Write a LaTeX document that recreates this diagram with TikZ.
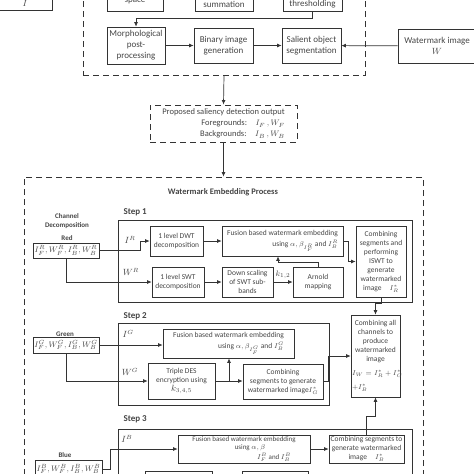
\documentclass[tikz,border=0pt]{standalone}
\usepackage{fontspec}
\setmainfont{Carlito}
\usepackage{amsmath}
\usetikzlibrary{arrows.meta}
\definecolor{linec}{gray}{0.2}
\definecolor{textc}{gray}{0.27}
\tikzset{
  blk/.style={draw=linec, line width=0.7pt, text=textc, align=center, inner sep=0pt, font=\fontsize{7.5}{9}\selectfont},
  bigblk/.style={blk, font=\fontsize{9}{11}\selectfont},
  stepbox/.style={draw=linec, line width=1pt},
  dashbox/.style={draw=linec, line width=0.9pt, dash pattern=on 6pt off 4pt},
  arr/.style={draw=linec, line width=0.7pt, -{Latex[length=4.5pt,width=4pt]}},
  lbl/.style={text=textc, font=\fontsize{9}{11}\selectfont\bfseries},
  chlbl/.style={text=textc, align=center, font=\fontsize{7}{9}\selectfont\bfseries},
  mlbl/.style={text=textc, font=\fontsize{9}{11}\selectfont},
}
\begin{document}
\begin{tikzpicture}[x=1pt,y=-1pt]
	\useasboundingbox (0,0) rectangle (474,474);
	\clip (0,0) rectangle (474,474);
	
	\node[dashbox, minimum width=282pt, minimum height=90pt](sal) at (224,30){};
	\node[bigblk, minimum width=54pt, minimum height=14pt](s_in) at (25,3){$I$};
	\node[bigblk, minimum width=56pt, minimum height=20pt](s_space) at (135,1){space};
	\node[bigblk, minimum width=58pt, minimum height=14pt](s_sum) at (224,4){summation};
	\node[bigblk, minimum width=59pt, minimum height=14pt](s_thr) at (312.5,4){thresholding};
	\node[bigblk, minimum width=58pt, minimum height=37pt](s_morph) at (136,45.5){Morphological\\post-\\processing};
	\node[bigblk, minimum width=59pt, minimum height=35pt](s_bin) at (223.5,45.5){Binary image\\generation};
	\node[bigblk, minimum width=59pt, minimum height=35pt](s_seg) at (311.5,45.5){Salient object\\segmentation};
	\node[bigblk, minimum width=78pt, minimum height=34pt](s_wm) at (437,46){Watermark image\\$W$};
	
	\draw[arr] (s_thr.south) -- ++(0,7) -| (s_morph.north);
	\draw[arr] (s_morph) -- (s_bin);
	\draw[arr] (s_bin) -- (s_seg);
	\draw[arr] (s_wm) -- (s_seg);
	
	\node[dashbox, text=textc, align=right, inner sep=0pt, font=\fontsize{8.5}{11}\selectfont, minimum width=147pt, minimum height=37pt](out) at (223.5,123.5){Proposed saliency detection output\\Foregrounds:\quad $I_F\,,W_F$\\Backgrounds:\quad $I_B\,,W_B$};
	\node[dashbox, minimum width=399pt, minimum height=330pt](emb) at (223.5,342){};
	
	\draw[arr] (sal.south) -- (out.north);
	\draw[arr] (out.south) -- (emb.north);
	
	\node[lbl, font=\fontsize{8.5}{10}\selectfont\bfseries](emb_title) at (223,192){Watermark Embedding Process};
	
	% red channel
	\node[stepbox, minimum width=294pt, minimum height=82pt](step1) at (265,261){};
	\node[lbl, anchor=west](step1_lbl) at (120,212){Step 1};
	\node[chlbl](chan) at (67,221){Channel\\Decomposition};
	\node[chlbl](red_lbl) at (67,238){Red};
	\node[blk, font=\fontsize{8}{10}\selectfont, minimum width=66pt, minimum height=15pt](red) at (66,250.5){$I^R_F,W^R_F,I^R_B,W^R_B$};
	
	\node[blk, minimum width=53pt, minimum height=30pt](r_dwt) at (176.5,241){1 level DWT\\decomposition};
	\node[blk, align=right, minimum width=121pt, minimum height=30pt](r_fus) at (282.5,241){Fusion based watermark embedding\\[2pt]using $\alpha,\beta_{I^R_F}$ and $I^R_B$};
	\node[blk, minimum width=50pt, minimum height=71pt](r_comb) at (381,261.5){Combining\\segments and\\performing\\ISWT to\\generate\\watermarked\\image\hspace{8pt}$I^*_R$};
	\node[blk, minimum width=52pt, minimum height=30pt](r_swt) at (178,282){1 level SWT\\decomposition};
	\node[blk, minimum width=51pt, minimum height=30pt](r_down) at (247.5,282){Down scaling\\of SWT sub-\\bands};
	\node[blk, minimum width=50pt, minimum height=30pt](r_arn) at (318,282){Arnold\\mapping};
	\node[mlbl](r_i) at (130,240){$I^R$};
	\node[mlbl](r_w) at (131,272){$W^R$};
	
	\draw[arr] (red.east) -- ++(41,0) |- (r_dwt.west);
	\draw[arr] (r_dwt) -- (r_fus);
	\draw[arr] (r_fus.east) -- ++(5,0) |- (r_comb.west);
	\draw[arr] (red.south) |- (r_swt.west);
	\draw[arr] (r_swt) -- (r_down);
	\draw[arr] (r_down) -- node[mlbl, above, font=\fontsize{8}{10}\selectfont]{$k_{1,2}$} (r_arn);
	\draw[arr] (r_arn.north) -- ++(0,-4) -| ([xshift=-4.5pt]r_fus.south);
	
	\node[blk, minimum width=49pt, minimum height=82pt](comball) at (375.5,356){Combining all\\channels to\\produce\\watermarked\\image\\[5pt]\makebox[47pt][l]{$I_W=I^*_R+I^*_G$}\\[5pt]\makebox[47pt][l]{$+I^*_B$}};
	\draw[arr] (r_comb.south) -- ++(0,6) -| (comball.north);
	
	% green channel
	\node[stepbox, minimum width=211pt, minimum height=82pt](step2) at (223.5,364){};
	\node[lbl, anchor=west](step2_lbl) at (120,316){Step 2};
	\node[chlbl](green_lbl) at (65,334){Green};
	\node[blk, font=\fontsize{8}{10}\selectfont, minimum width=66pt, minimum height=16pt](green) at (66,345){$I^G_F,W^G_F,I^G_B,W^G_B$};
	
	\node[blk, align=right, minimum width=131pt, minimum height=29pt](g_fus) at (228.5,343.5){Fusion based watermark embedding\\[2pt]using $\alpha,\beta_{I^G_F}$ and $I^G_B$};
	\node[blk, minimum width=67pt, minimum height=36pt](g_des) at (181.5,381){Triple DES\\encryption using\\{\fontsize{9}{11}\selectfont$k_{3,4,5}$}};
	\node[blk, minimum width=80pt, minimum height=35pt](g_comb) at (283,381.5){Combining\\segments to generate\\watermarked image$I^*_G$};
	\node[mlbl](g_i) at (128,334){$I^G$};
	\node[mlbl](g_w) at (130,372){$W^G$};
	\coordinate (g_br) at (229,381);
	
	\draw[arr] (green.east) -- (green.east -| g_fus.west);
	\draw[arr] (green.south) |- (g_des.west);
	\draw[arr] (g_des.east) -- (g_des.east -| g_comb.west);
	\draw[arr] (g_br) -- (g_br |- g_fus.south);
	\draw[arr] (g_comb.east) -- ++(5,0) |- (comball.west);
	
	% blue channel
	\node[stepbox, minimum width=294pt, minimum height=81pt](step3) at (265,469.5){};
	\node[lbl, anchor=west](step3_lbl) at (120,419){Step 3};
	\node[chlbl](blue_lbl) at (65,455){Blue};
	\node[blk, font=\fontsize{8}{10}\selectfont, minimum width=67pt, minimum height=18pt](blue) at (68.5,469){$I^B_F,W^B_F,I^B_B,W^B_B$};
	
	\node[blk, font=\fontsize{7}{8.5}\selectfont, minimum width=132pt, minimum height=28pt](b_fus) at (244,449){Fusion based watermark embedding\\\hspace*{12pt}using $\alpha,\beta$\\[1pt]\hspace*{60pt}$I^B_F$ and $I^B_B$};
	\node[blk, minimum width=75pt, minimum height=28pt](b_comb) at (366.5,449){Combining segments to\\generate watermarked\\image\hspace{8pt}$I^*_B$};
	\node[blk, minimum width=67pt, minimum height=24pt](b_red) at (178.5,483){};
	\node[blk, minimum width=66pt, minimum height=24pt](b_enc) at (275,483){};
	\node[mlbl](b_i) at (127,439){$I^B$};
	
	\draw[arr] (blue.east) -- ++(8,0) |- (b_fus.west);
	\draw[arr] (b_fus) -- (b_comb);
	\draw[arr] (b_comb.north) -- ++(0,-18) -| (comball.south);
\end{tikzpicture}
\end{document}
